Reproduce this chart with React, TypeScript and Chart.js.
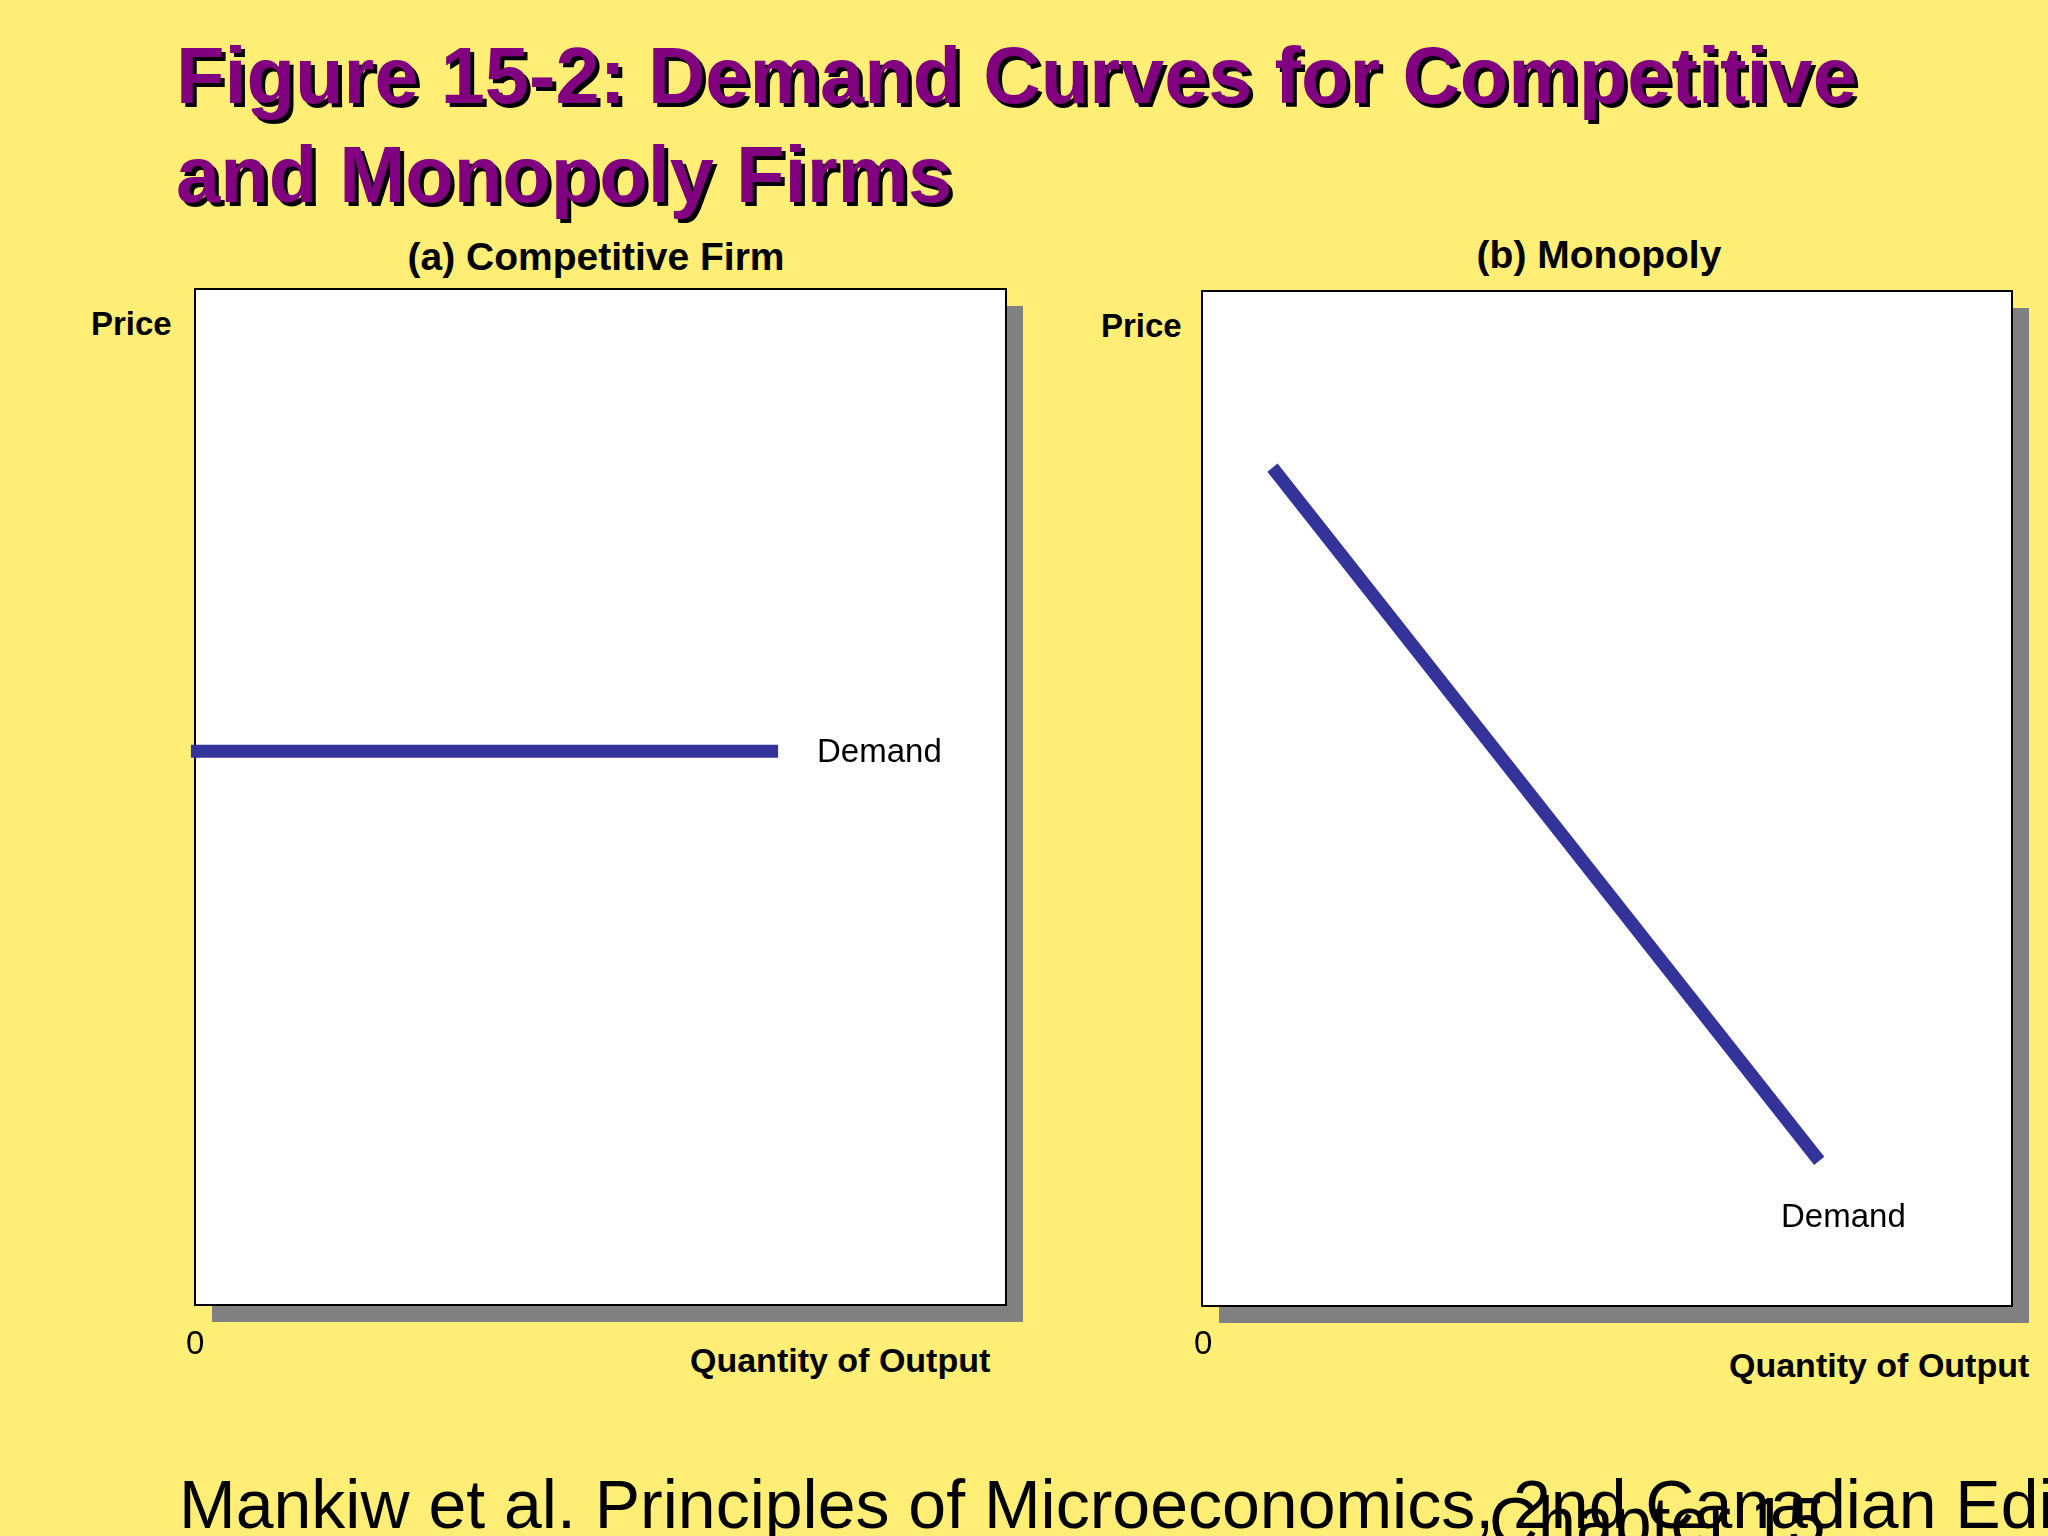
import React, { useEffect, useRef } from "react";
import { Chart, registerables } from "chart.js";

Chart.register(...registerables);

// ---- Data (axes 0..100 in both directions) ----
const competitiveQuantity = [-0.5, 71.9];
const competitivePrice = [54.5, 54.5];
const monopolyQuantity = [8.7, 76.2];
const monopolyPrice = [82.6, 14.3];

const titleLines = ["Figure 15-2: Demand Curves for Competitive", "and Monopoly Firms"];
const panelTitles = ["(a) Competitive Firm", "(b) Monopoly"];
const yAxisLabel = "Price";
const xAxisLabel = "Quantity of Output";
const originLabel = "0";
const curveLabel = "Demand";
const footerText = "Mankiw et al. Principles of Microeconomics, 2nd Canadian Edition";
const footerChapter = "Chapter 15";

const FONT = '"Liberation Sans", Arial, Helvetica, sans-serif';
const BG = "#FFEE76";
const LINE = "#333399";

const boxPlugin = {
  id: "boxPlugin",
  beforeDraw(chart: any) {
    const { ctx, chartArea } = chart;
    const { left, top, right, bottom } = chartArea;
    const w = right - left;
    const h = bottom - top;
    ctx.save();
    ctx.fillStyle = "#808080";
    ctx.fillRect(left + 17, top + 17, w, h);
    ctx.fillStyle = "#FFFFFF";
    ctx.fillRect(left, top, w, h);
    ctx.strokeStyle = "#000000";
    ctx.lineWidth = 2;
    ctx.strokeRect(left, top, w, h);
    ctx.restore();
  },
};

function Panel(props: { left: number; top: number; width: number; height: number; qs: number[]; ps: number[] }) {
  const ref = useRef<HTMLCanvasElement | null>(null);
  useEffect(() => {
    if (!ref.current) return;
    const chart = new Chart(ref.current, {
      type: "scatter",
      data: {
        datasets: [
          {
            data: props.qs.map((q, i) => ({ x: q, y: props.ps[i] })),
            showLine: true,
            borderColor: LINE,
            backgroundColor: LINE,
            borderWidth: 13,
            pointRadius: 0,
            pointHoverRadius: 0,
            borderCapStyle: "butt",
            tension: 0,
            clip: false as any,
          } as any,
        ],
      },
      options: {
        responsive: false,
        animation: false,
        devicePixelRatio: 1,
        layout: { padding: { left: 10, top: 10, right: 30, bottom: 30 } },
        plugins: { legend: { display: false }, tooltip: { enabled: false } },
        events: [],
        scales: {
          x: { type: "linear", min: 0, max: 100, display: false },
          y: { type: "linear", min: 0, max: 100, display: false },
        },
      },
      plugins: [boxPlugin],
    });
    return () => chart.destroy();
  }, []);
  return (
    <canvas
      ref={ref}
      width={props.width}
      height={props.height}
      style={{ position: "absolute", left: props.left, top: props.top, width: props.width, height: props.height }}
    />
  );
}

function Label(props: {
  text: string;
  x: number;
  baseline: number;
  size: number;
  bold?: boolean;
  center?: boolean;
  color?: string;
  shadow?: string;
}) {
  return (
    <div
      style={{
        position: "absolute",
        left: props.x,
        top: props.baseline - 0.8465 * props.size,
        fontFamily: FONT,
        fontSize: props.size,
        lineHeight: 1,
        fontWeight: props.bold ? 700 : 400,
        color: props.color || "#000",
        whiteSpace: "nowrap",
        transform: props.center ? "translateX(-50%)" : undefined,
        textShadow: props.shadow,
      }}
    >
      {props.text}
    </div>
  );
}

export default function App() {
  useEffect(() => {
    document.body.style.margin = "0";
    document.body.style.overflow = "hidden";
  }, []);
  return (
    <div
      style={{
        position: "absolute",
        left: 0,
        top: 0,
        width: 2048,
        height: 1536,
        background: BG,
        overflow: "hidden",
      }}
    >
      <Label text={titleLines[0]} x={176} baseline={103} size={79.4} bold color="#800080" shadow="4px 4px 0 #000" />
      <Label text={titleLines[1]} x={176} baseline={202} size={79.4} bold color="#800080" shadow="4px 4px 0 #000" />

      <Label text={panelTitles[0]} x={596} baseline={270} size={39} bold center />
      <Label text={panelTitles[1]} x={1599} baseline={268} size={39} bold center />

      <Panel left={185} top={279} width={851} height={1056} qs={competitiveQuantity} ps={competitivePrice} />
      <Panel left={1192} top={281} width={850} height={1055} qs={monopolyQuantity} ps={monopolyPrice} />

      <Label text={yAxisLabel} x={91} baseline={335} size={33} bold />
      <Label text={yAxisLabel} x={1101} baseline={337} size={33} bold />

      <Label text={originLabel} x={186} baseline={1354} size={33} />
      <Label text={originLabel} x={1194} baseline={1354} size={33} />

      <Label text={xAxisLabel} x={690} baseline={1372} size={34} bold />
      <Label text={xAxisLabel} x={1729} baseline={1377} size={34} bold />

      <Label text={curveLabel} x={817} baseline={762} size={33} />
      <Label text={curveLabel} x={1781} baseline={1227} size={33} />

      <Label text={footerText} x={179} baseline={1528} size={68} />
      <Label text={footerChapter} x={1489} baseline={1545} size={68} />
    </div>
  );
}
